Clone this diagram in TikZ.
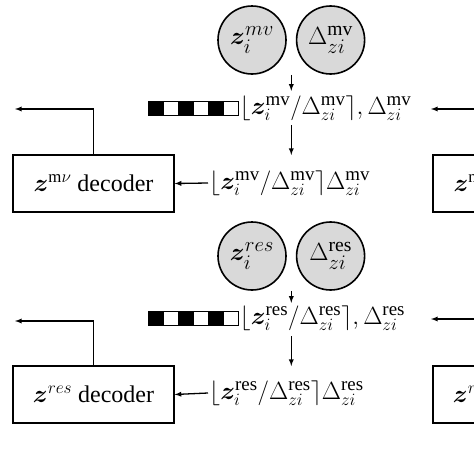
\documentclass[tikz,border=0pt]{standalone}
\usepackage{amsmath}
\usepackage{bm}
\usepackage{fontspec}
\setmainfont{Liberation Serif}
\usetikzlibrary{shapes,positioning,calc}

\begin{document}
\begin{tikzpicture}[x=1pt,y=-1pt,font=\fontsize{24}{28}\selectfont]
    \tikzstyle{latent} = [draw,circle,line width=1.6pt,fill=gray!30,minimum size=68pt,inner sep=0pt,font=\fontsize{28}{32}\selectfont]
    \tikzstyle{decoder} = [draw,rectangle,line width=1.2pt,minimum width=161pt,minimum height=57pt,inner sep=0pt]
    \tikzstyle{quant} = [inner sep=1pt,anchor=west,font=\fontsize{27}{31}\selectfont]
    \tikzstyle{arr} = [->,>=latex,line width=1.3pt]
    \tikzstyle{cell} = [draw,line width=1pt,minimum width=15pt,minimum height=14pt,inner sep=0pt]
    \useasboundingbox (0,0) rectangle (474,474);
    \clip (0,0) rectangle (474,474);
    % motion latents
    \node[latent] (zmv) at (252,40) {$\bm{z}_i^{mv}$};
    \node[latent] (dmv) [right = 9pt of zmv] {$\Delta_{zi}^{\mathrm{mv}}$};
    \coordinate (mmv) at ($(zmv.east)!0.5!(dmv.west)$);
    \foreach \i in {0,...,5}
        \pgfmathsetmacro{\shade}{ifthenelse(mod(\i,2)==0,"black","white")}
        \node[cell,fill=\shade] (barmv\i) at (155.5+15*\i,108) {};
    \node[quant] (q1) [right = 0pt of barmv5] {$\lfloor\bm{z}_i^{\mathrm{mv}}/\Delta_{zi}^{\mathrm{mv}}\rceil,\Delta_{zi}^{\mathrm{mv}}$};
    \node[quant] (q2) at (208,183) {$\lfloor\bm{z}_i^{\mathrm{mv}}/\Delta_{zi}^{\mathrm{mv}}\rceil\Delta_{zi}^{\mathrm{mv}}$};
    \node[decoder] (dec1) at (93.5,183.5) {$\bm{z}^{\mathrm{m}\nu}$ decoder};
    \node[decoder] (dec1r) at (513.5,183.5) {$\bm{z}^{\mathrm{m}\nu}$ decoder};
    \coordinate (out1) at (15,109);
    \coordinate (in1) at (480,109);
    \draw[arr] (zmv.south -| mmv) -- ++(0,16);
    \draw[arr] (mmv |- 0,125) -- ++(0,30);
    \draw[arr] (q2.west) -- (dec1.east);
    \draw[arr] (dec1.north) |- (out1);
    \draw[arr] (in1) -- (431,109);
    % residual latents
    \node[latent] (zres) at (252,256) {$\bm{z}_i^{res}$};
    \node[latent] (dres) [right = 9pt of zres] {$\Delta_{zi}^{\mathrm{res}}$};
    \coordinate (mres) at ($(zres.east)!0.5!(dres.west)$);
    \foreach \i in {0,...,5}
        \pgfmathsetmacro{\shade}{ifthenelse(mod(\i,2)==0,"black","white")}
        \node[cell,fill=\shade] (barres\i) at (155.5+15*\i,318) {};
    \node[quant] (q3) [right = 0pt of barres5] {$\lfloor\bm{z}_i^{\mathrm{res}}/\Delta_{zi}^{\mathrm{res}}\rceil,\Delta_{zi}^{\mathrm{res}}$};
    \node[quant] (q4) at (208,393) {$\lfloor\bm{z}_i^{\mathrm{res}}/\Delta_{zi}^{\mathrm{res}}\rceil\Delta_{zi}^{\mathrm{res}}$};
    \node[decoder] (dec2) at (93.5,394.5) {$\bm{z}^{res}$ decoder};
    \node[decoder] (dec2r) at (513.5,394.5) {$\bm{z}^{res}$ decoder};
    \coordinate (out2) at (15,321);
    \coordinate (in2) at (480,319);
    \draw[arr] (zres.south -| mres) -- ++(0,12);
    \draw[arr] (mres |- 0,336) -- ++(0,30);
    \draw[arr] (q4.west) -- (dec2.east);
    \draw[arr] (dec2.north) |- (out2);
    \draw[arr] (in2) -- (431,319);
\end{tikzpicture}
\end{document}
